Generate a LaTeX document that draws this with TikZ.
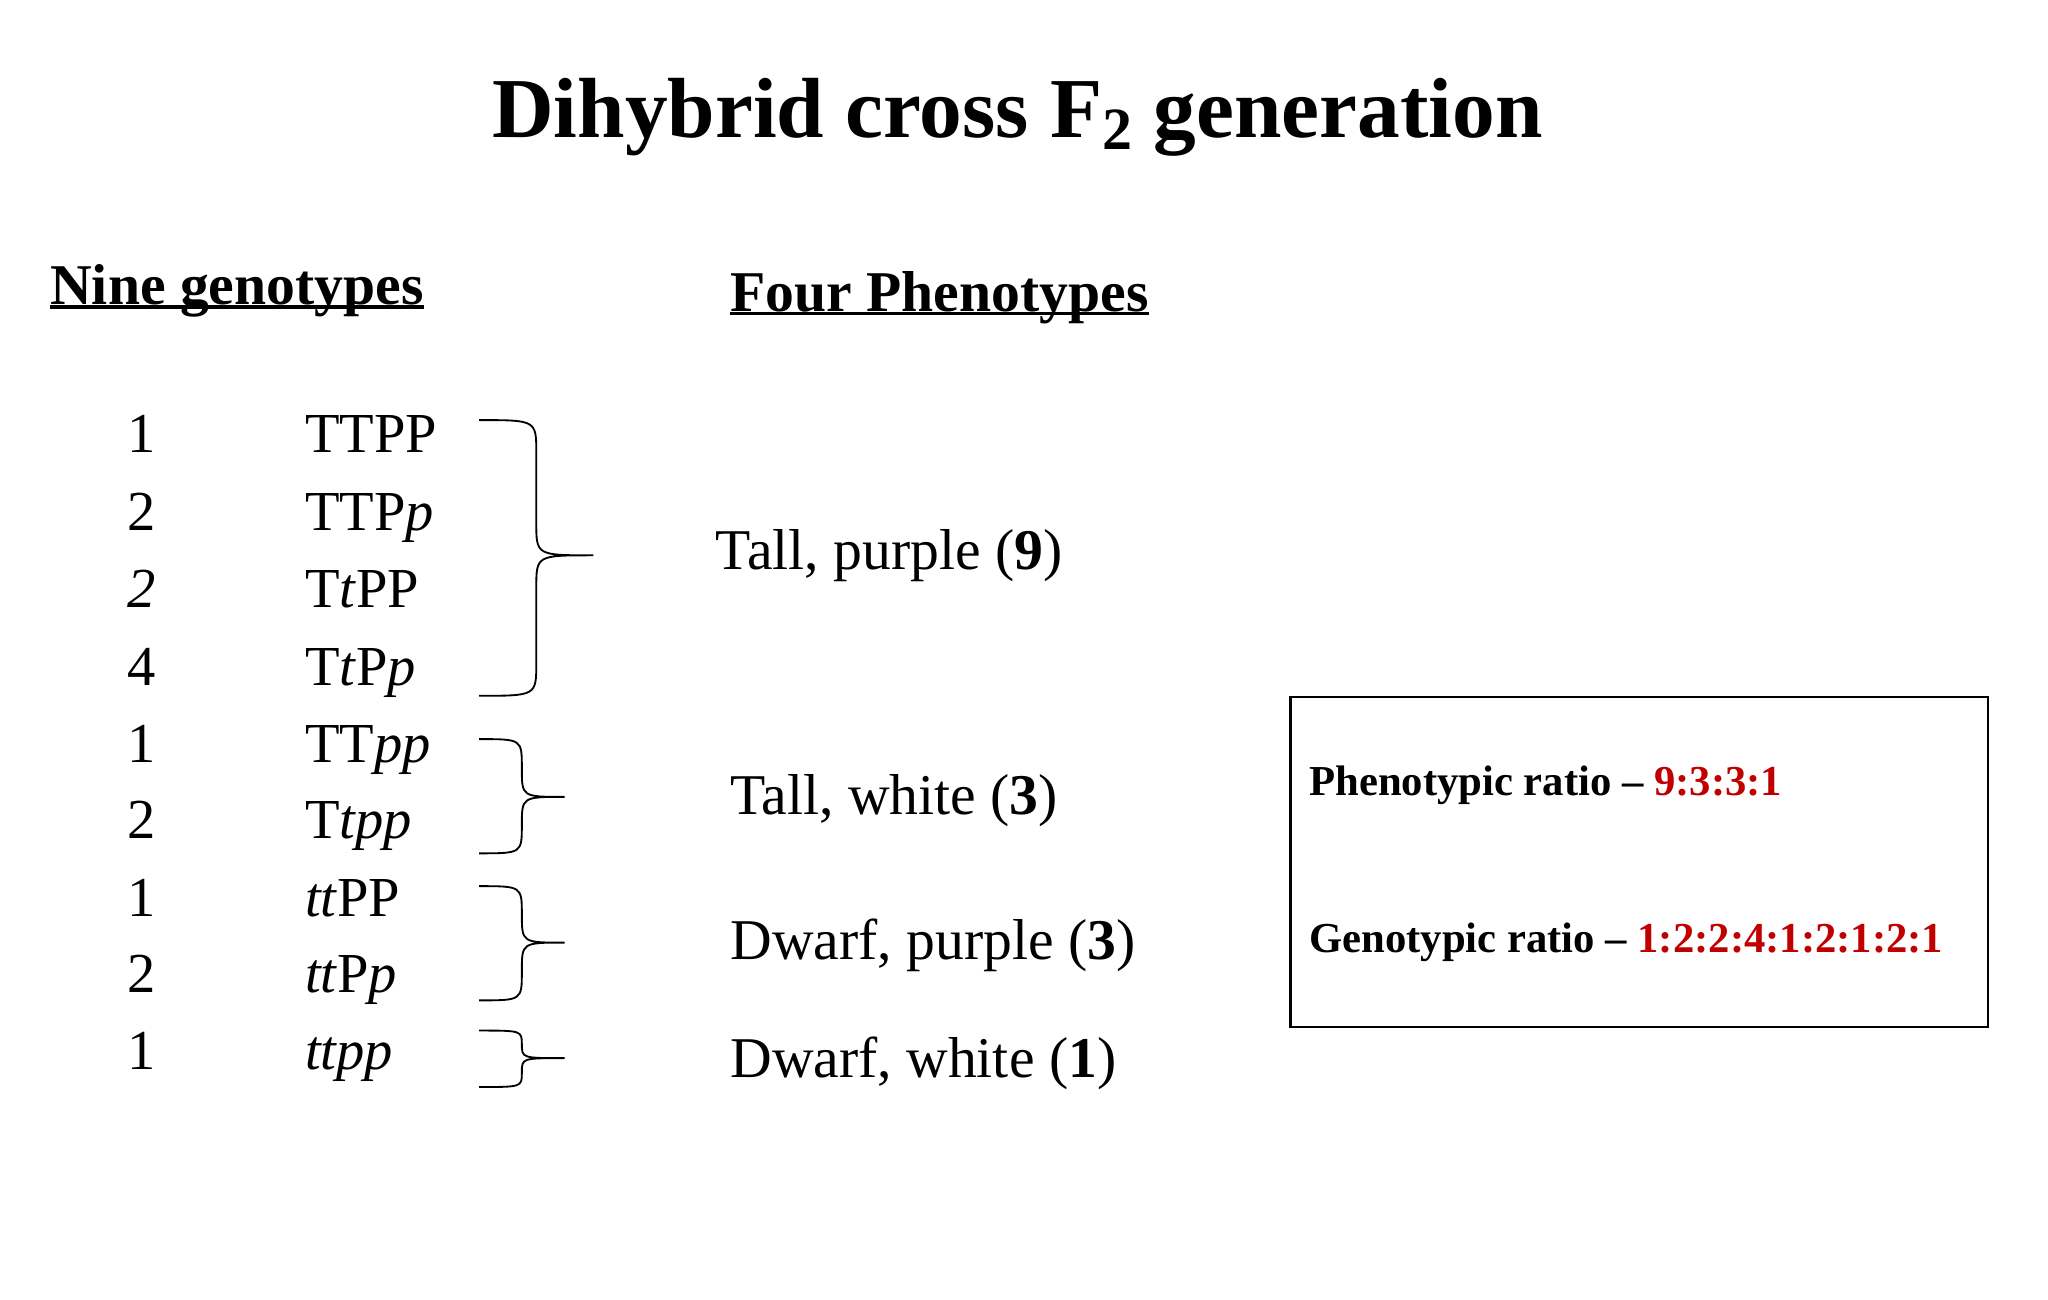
\documentclass[tikz,border=0pt]{standalone}
\usepackage{fontspec}
\setmainfont{Liberation Serif}
\definecolor{ratiored}{RGB}{192,0,0}
\begin{document}
\begin{tikzpicture}[x=0.02cm,y=-0.02cm,
  gt/.style={anchor=base west,font=\fontsize{24.5}{30}\selectfont,inner sep=0},
  num/.style={anchor=base,font=\fontsize{24.5}{30}\selectfont,inner sep=0},
  ph/.style={anchor=west,font=\fontsize{25}{30}\selectfont,inner sep=0},
  hd/.style={anchor=base west,font=\fontsize{25}{30}\selectfont\bfseries,inner sep=0},
  bx/.style={anchor=west,font=\fontsize{18.5}{22}\selectfont\bfseries,inner sep=0},
  ul/.style={line width=1.6pt},
  br/.style={line width=0.8pt}]
\useasboundingbox (0,0) rectangle (1560,990);
\node[anchor=base,font=\fontsize{37}{44}\selectfont\bfseries,inner sep=0] (title) at (775,105) {Dihybrid cross F\raisebox{-0.3ex}{\fontsize{26}{30}\selectfont 2} generation};
\node[hd] (h1) at (38,232) {Nine genotypes};
\node[hd] (h2) at (556,237) {Four Phenotypes};
\draw[ul] (h1.south west) ++(0,-8) coordinate (u1a) -- (u1a -| h1.south east);
\draw[ul] (h2.south west) ++(0,-8) coordinate (u2a) -- (u2a -| h2.south east);
\foreach \n/\g/\y [count=\i] in {1/TTPP/345,2/TTP\textit{p}/404,\textit{2}/T\textit{t}PP/463,4/T\textit{t}P\textit{p}/522,1/TT\textit{pp}/581,2/T\textit{tpp}/639,1/\textit{tt}PP/698,2/\textit{tt}P\textit{p}/756,1/\textit{ttpp}/815}{
  \node[num] (n\i) at (108,\y) {\n};
  \node[gt] (g\i) at (232,\y) {\g};
}
\foreach \t/\b/\c/\xt in {320/530/423/452, 563/650/607/430, 675/762/718/430, 785/828/806/430}{
  \pgfmathsetmacro{\xm}{(\xt-365)/2+365}
  \pgfmathsetmacro{\d}{min(25,(\b-\t)/4)}
  \draw[br] (365,\t) .. controls (\xm,\t) .. (\xm,\t+\d) -- (\xm,\c-\d) .. controls (\xm,\c) .. (\xt,\c)
     .. controls (\xm,\c) .. (\xm,\c+\d) -- (\xm,\b-\d) .. controls (\xm,\b) .. (365,\b);
}
\node[ph] (p1) at (545,423) {Tall, purple (\textbf{9})};
\node[ph] (p2) at (556,610) {Tall, white (\textbf{3})};
\node[ph] (p3) at (556,720) {Dwarf, purple (\textbf{3})};
\node[ph] (p4) at (556,810) {Dwarf, white (\textbf{1})};
\draw[line width=0.9pt] (983,531) rectangle (1514,782);
\node[bx] (r1) at (997,598) {Phenotypic ratio -- \textcolor{ratiored}{9:3:3:1}};
\node[bx] (r2) at (997,718) {Genotypic ratio -- \textcolor{ratiored}{1:2:2:4:1:2:1:2:1}};
\end{tikzpicture}
\end{document}
